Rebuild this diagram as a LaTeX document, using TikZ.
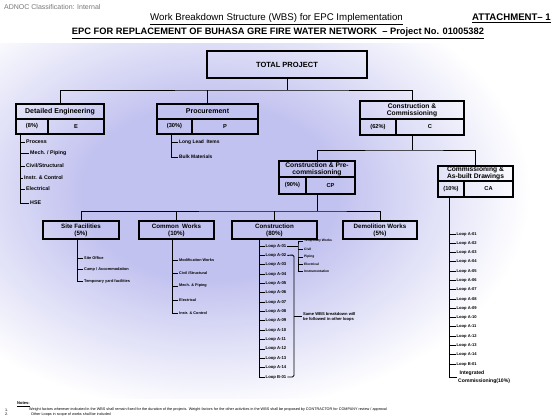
\documentclass[tikz,border=0pt]{standalone}
\usepackage{fontspec}
\setmainfont{Liberation Sans}
\usetikzlibrary{calc}
\definecolor{lav}{RGB}{194,194,240}
\definecolor{clsgray}{RGB}{120,120,120}
\pgfdeclareradialshading{bgrad}{\pgfpoint{0bp}{0bp}}{color(0bp)=(lav); color(10bp)=(lav); color(25bp)=(white); color(50bp)=(white)}
\tikzset{
  box/.style={draw, line width=1.2pt, inner sep=0pt, align=center, font=\bfseries\fontsize{7}{7.4}\selectfont},
  tbox/.style={box, font=\bfseries\fontsize{6.7}{6.6}\selectfont},
  sbox/.style={box, font=\bfseries\fontsize{6.2}{6.9}\selectfont},
  pct/.style={box, font=\bfseries\fontsize{5.7}{6}\selectfont},
  conn/.style={line width=0.9pt},
  item/.style={anchor=west, inner sep=1pt, font=\bfseries\fontsize{5.3}{6}\selectfont},
  pitem/.style={item, font=\bfseries\fontsize{4.9}{6}\selectfont},
  sitem/.style={item, font=\bfseries\fontsize{3.9}{5}\selectfont},
  citem/.style={item, font=\bfseries\fontsize{3.8}{5}\selectfont},
  loopitem/.style={item, font=\bfseries\fontsize{4.2}{5}\selectfont},
  titem/.style={item, font=\bfseries\fontsize{3.3}{4}\selectfont},
  note/.style={anchor=west, inner sep=0pt, font=\fontsize{3.75}{4}\selectfont},
}
\begin{document}
\begin{tikzpicture}[x=1pt,y=-1pt]
\useasboundingbox (0,0) rectangle (560,420);
\fill[white] (0,0) rectangle (560,420);
\begin{scope}
  \clip (0,44) rectangle (560,398);
  \shade[shading=bgrad] (210,192) ellipse [x radius=320pt, y radius=220pt];
\end{scope}

% header
\node[anchor=west, inner sep=0pt, text=clsgray, font=\fontsize{7}{8}\selectfont] (cls) at (4,7) {ADNOC Classification: Internal};
\node[inner sep=0pt, font=\fontsize{9.7}{11}\selectfont] (t1) at (276.5,19) {\underline{Work Breakdown Structure (WBS) for EPC Implementation}};
\node[anchor=east, inner sep=0pt, font=\bfseries\fontsize{9.6}{11}\selectfont] (att) at (551,18) {\underline{ATTACHMENT– 1}};
\node[inner sep=0pt, font=\bfseries\fontsize{9.3}{11}\selectfont] (t2) at (278,33) {\underline{EPC FOR REPLACEMENT OF BUHASA GRE FIRE WATER NETWORK\ \ – Project No. 01005382}};

% level 0
\node[box, minimum width=160pt, minimum height=27pt, font=\bfseries\fontsize{7.5}{8}\selectfont] (tp) at (287,64.5) {TOTAL PROJECT};

% level 1
\node[box, minimum width=88pt, minimum height=15pt] (de) at (60,111.5) {Detailed Engineering};
\node[pct, minimum width=32pt, minimum height=15pt] (dep) at (32,126.5) {(8\%)};
\node[pct, minimum width=56pt, minimum height=15pt] (dec) at (76,126.5) {E};

\node[box, minimum width=101pt, minimum height=15pt] (p) at (207.5,111.5) {Procurement};
\node[pct, minimum width=35pt, minimum height=15pt] (pp) at (174.5,126.5) {(30\%)};
\node[pct, minimum width=66pt, minimum height=15pt] (pc) at (225,126.5) {P};

\node[tbox, minimum width=104pt, minimum height=18pt] (c) at (412,110) {Construction \&\\Commissioning};
\node[pct, minimum width=36pt, minimum height=16pt] (cp0) at (378,127) {(62\%)};
\node[pct, minimum width=68pt, minimum height=16pt] (cc) at (430,127) {C};

% level 2
\node[tbox, minimum width=76pt, minimum height=16pt] (cp) at (317,169) {Construction \& Pre-\\commissioning};
\node[pct, minimum width=27pt, minimum height=17pt] (cpp) at (292.5,185.5) {(90\%)};
\node[pct, minimum width=49pt, minimum height=17pt] (cpc) at (330.5,185.5) {CP};

\node[tbox, minimum width=75pt, minimum height=15pt] (ca) at (475.5,173.5) {Commissioning \&\\As-built Drawings};
\node[pct, minimum width=26pt, minimum height=16pt] (cap) at (451,189) {(10\%)};
\node[pct, minimum width=49pt, minimum height=16pt] (cac) at (488.5,189) {CA};

% level 3
\node[sbox, minimum width=76pt, minimum height=18pt] (sf) at (81,230) {Site Facilities\\(5\%)};
\node[sbox, minimum width=75pt, minimum height=18pt] (cw) at (176.5,230) {Common\ \ Works\\(10\%)};
\node[sbox, minimum width=85pt, minimum height=18pt] (co) at (274.5,230) {Construction\\(80\%)};
\node[sbox, minimum width=74pt, minimum height=18pt] (dw) at (380,230) {Demolition Works\\(5\%)};

% tree connectors
\coordinate (b1) at (287,90);
\draw[conn] (tp.south) -- (b1);
\draw[conn] (de.north) |- (b1) -| (c.north);
\draw[conn] (p.north) -- (p.north |- b1);

\coordinate (b2) at (412,150);
\draw[conn] (c.center |- cc.south) -- (b2);
\draw[conn] (cp.north) |- (b2) -| (ca.north);

\coordinate (b3) at (314,211);
\draw[conn] (cp.center |- cpc.south) -- (cp.center |- b3);
\draw[conn] (sf.north) |- (b3) -| (dw.north);
\draw[conn] (cw.north) -- (cw.north |- b3);
\draw[conn] (co.north) -- (co.north |- b3);

% Detailed Engineering items
\coordinate (deTop) at (20,134);
\node[item] (de1) at (25,142) {Process};
\node[item] (de2) at (29,153) {Mech. / Piping};
\node[item] (de3) at (25,166) {Civil/Structural};
\node[item] (de4) at (23,178) {Instr. \& Control};
\node[item] (de5) at (25,189) {Electrical};
\node[item] (de6) at (29,203) {HSE};
\draw[conn] (deTop) |- (de6.west);
\foreach \k in {1,...,5} \draw[conn] (de\k.west -| deTop) -- (de\k.west);

% Procurement items
\coordinate (pTop) at (171,134);
\node[pitem] (p1) at (178,142) {Long Lead\ \ Items};
\node[pitem] (p2) at (178,157) {Bulk Materials};
\draw[conn] (pTop) |- (p2.west);
\draw[conn] (p1.west -| pTop) -- (p1.west);

% Site Facilities items
\coordinate (sfTop) at (77,239);
\node[sitem] (sf1) at (83,258) {Site Office};
\node[sitem] (sf2) at (83,269) {Camp / Accommodation};
\node[sitem] (sf3) at (83,281) {Temporary yard facilities};
\draw[conn] (sfTop) |- (sf3.west);
\foreach \k in {1,2} \draw[conn] (sf\k.west -| sfTop) -- (sf\k.west);

% Common Works items
\coordinate (cwTop) at (172,239);
\node[citem] (cw1) at (178,260) {Modification Works};
\node[citem] (cw2) at (178,273) {Civil /Structural};
\node[citem] (cw3) at (178,286) {Mech. \& Piping};
\node[citem] (cw4) at (178,300) {Electrical};
\node[citem] (cw5) at (178,313) {Instr. \& Control};
\draw[conn] (cwTop) |- (cw5.west);
\foreach \k in {1,...,4} \draw[conn] (cw\k.west -| cwTop) -- (cw\k.west);

% Construction loops
\coordinate (coTop) at (259,239);
\foreach \k/\t in {1/A-01,2/A-02,3/A-03,4/A-04,5/A-05,6/A-06,7/A-07,8/A-08,9/A-09,10/A-10,11/A-11,12/A-12,13/A-13,14/A-14,15/B-01}
  \node[loopitem] (co\k) at (264.5,{246+9.36*(\k-1)}) {Loop \t};
\draw[conn] (coTop) |- (co15.west);
\foreach \k in {1,...,14} \draw[conn] (co\k.west -| coTop) -- (co\k.west);

% bracket of Loop A-01
\coordinate (br1) at (298,246);
\node[titem] (tw1) at (303,241) {Temporary Works};
\node[titem] (tw2) at (303,249) {Civil};
\node[titem] (tw3) at (303,257) {Piping};
\node[titem] (tw4) at (303,264) {Electrical};
\node[titem] (tw5) at (303,271) {Instrumentation};
\draw[conn] (co1.east) -- (br1);
\draw[conn] (tw1.west) -| (br1) |- (tw5.west);
\foreach \k in {2,3,4} \draw[conn] (tw\k.west -| br1) -- (tw\k.west);

% bracket of Loop A-02 .. B-01
\coordinate (br2) at (294,255);
\node[loopitem, font=\bfseries\fontsize{4.1}{5}\selectfont, align=left] (sw) at (302,316.5) {Same WBS breakdown will\\be followed in other loops};
\draw[conn, rounded corners=1.5pt] (co2.east) -- (br2) |- (co15.east);
\draw[conn] (sw.west -| br2) -- (sw.west);

% Commissioning loops
\coordinate (caTop) at (449,197);
\foreach \k/\t in {1/A-01,2/A-02,3/A-03,4/A-04,5/A-05,6/A-06,7/A-07,8/A-08,9/A-09,10/A-10,11/A-11,12/A-12,13/A-13,14/A-14,15/B-01}
  \node[loopitem, font=\bfseries\fontsize{4.1}{5}\selectfont] (ca\k) at (455.5,{234+9.29*(\k-1)}) {Loop \t};
\node[item, align=left, font=\bfseries\fontsize{5.1}{8}\selectfont] (ic) at (457,377) {\ Integrated\\Commissioning(10\%)};
\draw[conn] (caTop) |- (ic.west);
\foreach \k in {1,...,15} \draw[conn] (ca\k.west -| caTop) -- (ca\k.west);

% notes
\node[anchor=west, inner sep=0pt, font=\bfseries\fontsize{4}{5}\selectfont] (nt) at (17,404) {\underline{Notes:}};
\node[note] (n1) at (5,410) {1.};
\node[note] (n1t) at (29,410) {Weight factors wherever indicated in the WBS shall remain fixed for the duration of the projects. Weight factors for the other activities in the WBS shall be proposed by CONTRACTOR for COMPANY review / approval};
\node[note] (n2) at (5,414.5) {2.};
\node[note] (n2t) at (31,414.5) {Other Loops in scope of works shall be included};
\end{tikzpicture}
\end{document}
